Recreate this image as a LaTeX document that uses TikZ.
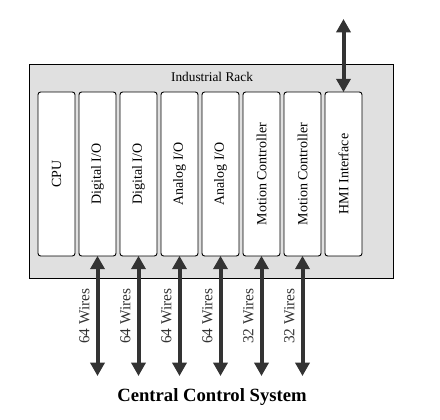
\documentclass[tikz,border=0pt]{standalone}
\usepackage{fontspec}
\setmainfont{Liberation Serif}
\usetikzlibrary{arrows.meta}

\definecolor{rackgray}{RGB}{224,224,224}
\definecolor{wiregray}{RGB}{51,51,51}

\tikzset{
  rackbox/.style={draw, fill=rackgray, line width=0.7pt, minimum width=273pt, minimum height=160.5pt, inner sep=0pt},
  modbox/.style={draw, fill=white, rounded corners=2pt, line width=0.7pt, minimum width=27.75pt, minimum height=123pt, inner sep=0pt},
  modlabel/.style={rotate=90, font=\fontsize{10.5}{12}\selectfont},
  wire/.style={wiregray, line width=3pt, {Triangle[width=10.5pt,length=10pt]}-{Triangle[width=10.5pt,length=10pt]}, shorten <=-0.5pt, shorten >=0pt},
  wirelabel/.style={midway, rotate=90, above=1pt, font=\fontsize{11.5}{13}\selectfont}
}

\begin{document}
\begin{tikzpicture}[x=0.75pt, y=-0.75pt]
\useasboundingbox (0,0) rectangle (440,420);

% rack
\node[rackbox] (rack) at (211,171) {};
\node (racktitle) at (212,77) {Industrial Rack};

% modules
\foreach \i/\name in {1/CPU, 2/{Digital I/O}, 3/{Digital I/O}, 4/{Analog I/O}, 5/{Analog I/O}, 6/{Motion Controller}, 7/{Motion Controller}, 8/{HMI Interface}}
  \node[modbox, label={[modlabel]center:\name}] (m\i) at (15.5+41*\i,174) {};

% wires to the central control system
\foreach \i/\n in {2/64, 3/64, 4/64, 5/64, 6/32, 7/32}
{
  \coordinate (w\i) at (15.5+41*\i,376);
  \draw[wire] (m\i.south) -- (w\i) node[wirelabel] {\n\ Wires};
}

% HMI link
\coordinate (hmi) at (343.5,19);
\draw[wire] (m8.north) -- (hmi);

\node[font=\bfseries\fontsize{14}{16}\selectfont] (ccs) at (212,397) {Central Control System};
\end{tikzpicture}
\end{document}
